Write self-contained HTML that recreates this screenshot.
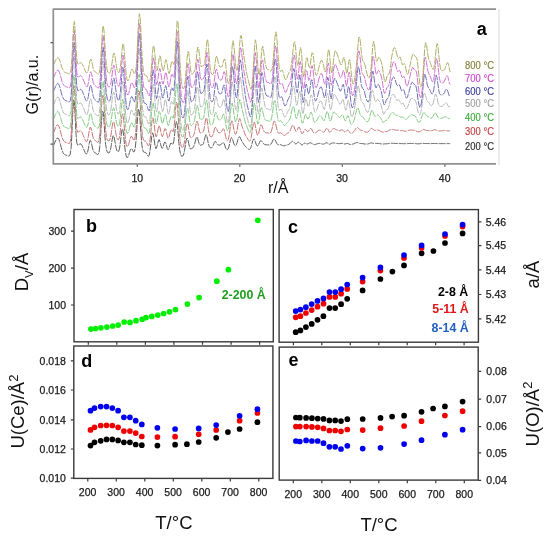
<!DOCTYPE html>
<html><head><meta charset="utf-8">
<style>
html,body{margin:0;padding:0;background:#fff;}
body{width:550px;height:536px;overflow:hidden;}
svg{display:block;will-change:transform;font-family:"Liberation Sans",sans-serif;}
.tl{font-size:10.5px;fill:#1a1a1a;stroke:#1a1a1a;stroke-width:0.25px;}
.ti{font-size:18.5px;fill:#111;}
.pl{font-size:18px;font-weight:bold;fill:#000;}
.lg{font-size:12.4px;font-weight:bold;}
.la text{font-size:10.3px;stroke-width:0.15px;}
</style></head><body>
<svg width="550" height="536" viewBox="0 0 550 536">
<rect width="550" height="536" fill="#fff"/>
<g><path d="M53.0,146.4 53.8,144.9 54.6,143.0 55.5,141.0 56.3,139.3 57.1,138.1 57.9,138.0 58.8,139.1 59.6,141.3 60.4,144.2 61.2,147.4 62.0,150.2 62.9,152.4 63.7,153.8 64.5,154.5 65.3,154.9 66.2,155.2 67.0,155.4 67.8,155.7 68.6,156.0 69.4,155.9 70.3,154.1 71.1,147.8 71.9,133.8 72.7,114.2 73.6,100.2 74.4,102.2 75.2,117.5 76.0,133.7 76.8,142.8 77.7,145.3 78.5,145.0 79.3,144.2 80.1,143.8 81.0,144.1 81.8,145.1 82.6,146.7 83.4,148.6 84.3,150.6 85.1,152.5 85.9,153.8 86.7,154.0 87.5,152.4 88.4,148.5 89.2,143.7 90.0,140.5 90.8,140.9 91.7,144.2 92.5,148.1 93.3,150.8 94.1,152.1 94.9,152.7 95.8,153.2 96.6,153.9 97.4,154.5 98.2,154.3 99.1,152.0 99.9,145.6 100.7,134.2 101.5,120.6 102.3,111.4 103.2,111.9 104.0,121.6 104.8,134.3 105.6,144.3 106.5,149.8 107.3,152.1 108.1,152.9 108.9,153.0 109.7,152.0 110.6,149.2 111.4,144.6 112.2,139.3 113.0,135.8 113.9,136.2 114.7,140.0 115.5,144.8 116.3,148.8 117.1,151.1 118.0,151.9 118.8,151.2 119.6,148.1 120.4,142.0 121.3,134.5 122.1,129.0 122.9,129.3 123.7,135.6 124.5,144.4 125.4,151.8 126.2,156.2 127.0,157.7 127.8,157.2 128.7,155.2 129.5,152.4 130.3,149.8 131.1,148.6 132.0,149.1 132.8,150.7 133.6,152.0 134.4,151.5 135.2,148.0 136.1,140.1 136.9,128.2 137.7,115.9 138.5,109.0 139.4,111.6 140.2,121.9 141.0,134.4 141.8,144.2 142.6,149.7 143.5,151.9 144.3,152.3 145.1,152.3 145.9,152.8 146.8,154.1 147.6,155.7 148.4,156.5 149.2,155.1 150.0,150.7 150.9,143.8 151.7,136.6 152.5,132.8 153.3,134.3 154.2,139.8 155.0,145.6 155.8,148.7 156.6,148.0 157.4,144.6 158.3,141.0 159.1,139.6 159.9,141.3 160.7,144.8 161.6,147.8 162.4,148.4 163.2,146.6 164.0,143.7 164.8,141.9 165.7,142.8 166.5,145.7 167.3,148.6 168.1,149.7 169.0,148.3 169.8,145.5 170.6,143.3 171.4,143.0 172.2,144.2 173.1,144.3 173.9,140.9 174.7,133.7 175.5,125.7 176.4,121.5 177.2,124.1 178.0,132.3 178.8,142.0 179.6,149.5 180.5,153.9 181.3,155.9 182.1,156.5 182.9,156.0 183.8,154.0 184.6,150.2 185.4,145.0 186.2,140.2 187.1,138.1 187.9,139.6 188.7,143.4 189.5,147.0 190.3,148.8 191.2,148.9 192.0,148.3 192.8,147.8 193.6,146.8 194.5,144.6 195.3,141.3 196.1,138.0 196.9,136.9 197.7,138.6 198.6,141.8 199.4,144.4 200.2,145.3 201.0,145.0 201.9,144.8 202.7,144.7 203.5,143.6 204.3,140.7 205.1,136.9 206.0,134.7 206.8,135.8 207.6,139.7 208.4,143.9 209.3,146.6 210.1,147.6 210.9,147.9 211.7,147.8 212.5,146.9 213.4,145.0 214.2,142.7 215.0,141.4 215.8,141.8 216.7,143.2 217.5,144.5 218.3,145.0 219.1,145.1 219.9,145.0 220.8,144.8 221.6,143.9 222.4,142.8 223.2,142.4 224.1,143.5 224.9,145.8 225.7,148.1 226.5,149.6 227.3,149.8 228.2,148.8 229.0,146.3 229.8,142.7 230.6,139.2 231.5,137.5 232.3,138.4 233.1,141.0 233.9,143.8 234.8,145.4 235.6,145.8 236.4,144.7 237.2,142.3 238.0,139.3 238.9,137.0 239.7,136.7 240.5,138.1 241.3,140.1 242.2,141.7 243.0,143.0 243.8,144.2 244.6,145.5 245.4,146.5 246.3,147.2 247.1,147.9 247.9,148.7 248.7,149.3 249.6,149.4 250.4,148.6 251.2,146.6 252.0,143.6 252.8,140.6 253.7,138.9 254.5,139.4 255.3,141.6 256.1,144.1 257.0,145.8 257.8,146.0 258.6,144.7 259.4,142.7 260.2,141.0 261.1,140.6 261.9,141.4 262.7,142.7 263.5,143.7 264.4,144.3 265.2,144.7 266.0,144.8 266.8,144.8 267.6,144.8 268.5,144.9 269.3,145.0 270.1,144.8 270.9,144.0 271.8,142.7 272.6,140.9 273.4,139.4 274.2,138.9 275.0,139.8 275.9,141.6 276.7,143.3 277.5,144.4 278.3,144.8 279.2,144.8 280.0,144.6 280.8,144.7 281.6,145.0 282.4,145.5 283.3,145.8 284.1,145.8 284.9,145.6 285.7,145.3 286.6,145.0 287.4,144.8 288.2,144.6 289.0,144.2 289.9,143.6 290.7,142.7 291.5,141.8 292.3,141.2 293.1,141.4 294.0,142.3 294.8,143.3 295.6,143.9 296.4,143.7 297.3,142.9 298.1,142.2 298.9,142.1 299.7,142.8 300.5,144.0 301.4,144.8 302.2,144.9 303.0,144.3 303.8,143.5 304.7,143.1 305.5,143.2 306.3,143.7 307.1,144.0 307.9,143.9 308.8,143.4 309.6,142.9 310.4,142.7 311.2,143.0 312.1,143.6 312.9,144.2 313.7,144.5 314.5,144.6 315.3,144.4 316.2,144.1 317.0,143.9 317.8,143.6 318.6,143.4 319.5,143.4 320.3,143.5 321.1,143.7 321.9,143.9 322.7,144.1 323.6,144.1 324.4,143.8 325.2,143.3 326.0,142.8 326.9,142.8 327.7,143.2 328.5,143.8 329.3,144.2 330.1,144.1 331.0,143.6 331.8,143.2 332.6,142.9 333.4,142.9 334.3,143.0 335.1,143.1 335.9,143.2 336.7,143.4 337.6,143.5 338.4,143.6 339.2,143.7 340.0,143.6 340.8,143.4 341.7,143.3 342.5,143.4 343.3,143.7 344.1,144.0 345.0,144.0 345.8,143.8 346.6,143.5 347.4,143.4 348.2,143.7 349.1,144.1 349.9,144.4 350.7,144.5 351.5,144.4 352.4,144.2 353.2,144.0 354.0,143.7 354.8,143.3 355.6,142.8 356.5,142.6 357.3,142.5 358.1,142.8 358.9,143.1 359.8,143.4 360.6,143.5 361.4,143.5 362.2,143.6 363.0,143.7 363.9,143.8 364.7,144.0 365.5,144.0 366.3,144.1 367.2,144.1 368.0,143.9 368.8,143.7 369.6,143.3 370.4,143.0 371.3,142.9 372.1,143.0 372.9,143.3 373.7,143.5 374.6,143.5 375.4,143.4 376.2,143.4 377.0,143.4 377.8,143.5 378.7,143.5 379.5,143.6 380.3,143.7 381.1,143.9 382.0,144.0 382.8,144.0 383.6,144.0 384.4,143.9 385.2,143.8 386.1,143.8 386.9,143.8 387.7,143.7 388.5,143.5 389.4,143.4 390.2,143.3 391.0,143.3 391.8,143.2 392.7,143.3 393.5,143.3 394.3,143.4 395.1,143.5 395.9,143.5 396.8,143.5 397.6,143.5 398.4,143.5 399.2,143.6 400.1,143.6 400.9,143.6 401.7,143.6 402.5,143.6 403.3,143.7 404.2,143.7 405.0,143.7 405.8,143.7 406.6,143.6 407.5,143.6 408.3,143.5 409.1,143.5 409.9,143.4 410.7,143.4 411.6,143.5 412.4,143.5 413.2,143.5 414.0,143.5 414.9,143.6 415.7,143.6 416.5,143.7 417.3,143.8 418.1,143.8 419.0,143.8 419.8,143.7 420.6,143.6 421.4,143.5 422.3,143.4 423.1,143.4 423.9,143.4 424.7,143.5 425.5,143.5 426.4,143.5 427.2,143.5 428.0,143.6 428.8,143.6 429.7,143.6 430.5,143.6 431.3,143.6 432.1,143.5 432.9,143.5 433.8,143.5 434.6,143.5 435.4,143.5 436.2,143.5 437.1,143.6 437.9,143.6 438.7,143.6 439.5,143.6 440.4,143.6 441.2,143.6 442.0,143.6 442.8,143.6 443.6,143.6 444.5,143.6 445.3,143.6 446.1,143.6 446.9,143.6 447.8,143.6 448.6,143.6 449.4,143.6 450.2,143.6" stroke="#606060" stroke-width="1.0" fill="none" stroke-dasharray="7 1"/><path d="M53.0,133.5 53.8,131.9 54.6,130.0 55.5,128.0 56.3,126.2 57.1,125.0 57.9,124.8 58.8,125.9 59.6,128.1 60.4,131.1 61.2,134.3 62.0,137.3 62.9,139.5 63.7,141.0 64.5,141.8 65.3,142.3 66.2,142.6 67.0,142.8 67.8,143.2 68.6,143.5 69.4,143.4 70.3,141.8 71.1,135.6 71.9,121.4 72.7,101.0 73.6,85.5 74.4,86.5 75.2,102.0 76.0,119.3 76.8,129.4 77.7,132.3 78.5,132.1 79.3,131.2 80.1,130.8 81.0,131.1 81.8,132.1 82.6,133.7 83.4,135.7 84.3,137.8 85.1,139.9 85.9,141.4 86.7,141.8 87.5,140.2 88.4,136.2 89.2,131.1 90.0,127.4 90.8,127.5 91.7,130.8 92.5,135.1 93.3,138.1 94.1,139.6 94.9,140.3 95.8,140.9 96.6,141.6 97.4,142.3 98.2,142.3 99.1,140.2 99.9,133.7 100.7,121.8 101.5,106.9 102.3,95.9 103.2,95.3 104.0,105.0 104.8,118.9 105.6,130.4 106.5,136.9 107.3,139.8 108.1,140.8 108.9,141.0 109.7,140.0 110.6,137.3 111.4,132.3 112.2,126.4 113.0,122.2 113.9,122.0 114.7,125.9 115.5,131.3 116.3,135.9 117.1,138.7 118.0,139.9 118.8,139.4 119.6,136.3 120.4,129.9 121.3,121.3 122.1,114.6 122.9,113.9 123.7,120.2 124.5,130.1 125.4,139.0 126.2,144.5 127.0,146.7 127.8,146.4 128.7,144.3 129.5,141.2 130.3,138.1 131.1,136.4 132.0,136.8 132.8,138.6 133.6,140.2 134.4,140.1 135.2,136.6 136.1,128.3 136.9,114.9 137.7,100.0 138.5,90.5 139.4,91.6 140.2,102.7 141.0,117.4 141.8,129.7 142.6,137.1 143.5,140.2 144.3,140.9 145.1,140.9 145.9,141.4 146.8,142.9 147.6,144.8 148.4,146.0 149.2,145.0 150.0,140.4 150.9,132.4 151.7,123.5 152.5,117.8 153.3,118.5 154.2,124.5 155.0,131.9 155.8,136.5 156.6,136.5 157.4,132.7 158.3,128.1 159.1,125.6 159.9,127.1 160.7,131.3 161.6,135.3 162.4,136.7 163.2,134.9 164.0,131.3 164.8,128.6 165.7,129.0 166.5,132.3 167.3,136.3 168.1,138.3 169.0,137.1 169.8,133.7 170.6,130.5 171.4,129.7 172.2,131.0 173.1,131.7 173.9,128.5 174.7,120.1 175.5,109.3 176.4,102.2 177.2,103.6 178.0,113.2 178.8,125.8 179.6,136.6 180.5,143.3 181.3,146.5 182.1,147.7 182.9,147.4 183.8,145.3 184.6,140.8 185.4,134.1 186.2,127.3 187.1,123.4 187.9,124.4 188.7,129.1 189.5,134.3 190.3,137.3 191.2,137.9 192.0,137.3 192.8,136.5 193.6,135.4 194.5,132.9 195.3,128.6 196.1,123.7 196.9,121.2 197.7,122.7 198.6,127.0 199.4,131.1 200.2,132.9 201.0,132.8 201.9,132.3 202.7,132.2 203.5,131.3 204.3,127.8 205.1,122.3 206.0,118.1 206.8,118.3 207.6,123.2 208.4,129.6 209.3,134.2 210.1,136.3 210.9,136.8 211.7,136.9 212.5,136.0 213.4,133.6 214.2,130.2 215.0,127.6 215.8,127.4 216.7,129.3 217.5,131.5 218.3,132.6 219.1,132.8 219.9,132.8 220.8,132.6 221.6,131.6 222.4,129.8 223.2,128.7 224.1,129.7 224.9,132.9 225.7,136.8 226.5,139.6 227.3,140.6 228.2,139.6 229.0,136.3 229.8,130.9 230.6,124.9 231.5,121.0 232.3,121.2 233.1,125.0 233.9,129.7 234.8,133.0 235.6,134.3 236.4,133.2 237.2,129.9 238.0,124.8 238.9,120.2 239.7,118.5 240.5,120.3 241.3,123.6 242.2,126.7 243.0,128.9 243.8,130.9 244.6,133.2 245.4,135.2 246.3,136.6 247.1,137.9 247.9,139.2 248.7,140.5 249.6,141.2 250.4,140.4 251.2,137.5 252.0,132.5 252.8,126.8 253.7,122.6 254.5,122.1 255.3,125.3 256.1,130.1 257.0,134.0 257.8,135.3 258.6,133.8 259.4,130.2 260.2,126.5 261.1,124.7 261.9,125.6 262.7,127.9 263.5,130.2 264.4,131.7 265.2,132.5 266.0,132.9 266.8,133.0 267.6,132.9 268.5,133.1 269.3,133.4 270.1,133.2 270.9,132.1 271.8,129.8 272.6,126.4 273.4,122.9 274.2,121.0 275.0,121.8 275.9,125.0 276.7,128.8 277.5,131.7 278.3,133.1 279.2,133.2 280.0,132.9 280.8,132.8 281.6,133.4 282.4,134.3 283.3,135.1 284.1,135.5 284.9,135.3 285.7,134.6 286.6,133.9 287.4,133.3 288.2,132.9 289.0,132.3 289.9,131.2 290.7,129.4 291.5,127.2 292.3,125.5 293.1,125.1 294.0,126.6 294.8,129.1 295.6,131.1 296.4,131.3 297.3,129.9 298.1,127.9 298.9,126.9 299.7,127.9 300.5,130.4 301.4,132.9 302.2,133.9 303.0,133.1 303.8,131.2 304.7,129.7 305.5,129.4 306.3,130.3 307.1,131.4 307.9,131.6 308.8,130.8 309.6,129.3 310.4,128.4 311.2,128.7 312.1,130.0 312.9,131.6 313.7,132.8 314.5,133.1 315.3,132.9 316.2,132.3 317.0,131.7 317.8,131.0 318.6,130.4 319.5,130.1 320.3,130.2 321.1,130.5 321.9,131.2 322.7,131.9 323.6,132.2 324.4,131.7 325.2,130.4 326.0,128.9 326.9,128.2 327.7,128.9 328.5,130.5 329.3,132.0 330.1,132.3 331.0,131.4 331.8,130.0 332.6,129.0 333.4,128.6 334.3,128.7 335.1,129.1 335.9,129.5 336.7,129.8 337.6,130.3 338.4,130.7 339.2,130.9 340.0,130.7 340.8,130.2 341.7,129.8 342.5,129.9 343.3,130.6 344.1,131.6 345.0,132.1 345.8,131.7 346.6,130.7 347.4,130.1 348.2,130.4 349.1,131.5 349.9,132.7 350.7,133.3 351.5,133.3 352.4,132.9 353.2,132.2 354.0,131.4 354.8,130.3 355.6,128.9 356.5,127.8 357.3,127.3 358.1,127.8 358.9,128.7 359.8,129.7 360.6,130.2 361.4,130.4 362.2,130.5 363.0,130.8 363.9,131.2 364.7,131.7 365.5,132.0 366.3,132.2 367.2,132.2 368.0,132.0 368.8,131.3 369.6,130.3 370.4,129.1 371.3,128.4 372.1,128.5 372.9,129.3 373.7,130.1 374.6,130.4 375.4,130.3 376.2,130.1 377.0,130.0 377.8,130.1 378.7,130.3 379.5,130.6 380.3,131.0 381.1,131.5 382.0,132.0 382.8,132.2 383.6,132.1 384.4,131.8 385.2,131.6 386.1,131.5 386.9,131.4 387.7,131.2 388.5,130.7 389.4,130.2 390.2,129.8 391.0,129.5 391.8,129.4 392.7,129.4 393.5,129.5 394.3,129.8 395.1,130.1 395.9,130.2 396.8,130.2 397.6,130.1 398.4,130.2 399.2,130.4 400.1,130.6 400.9,130.7 401.7,130.6 402.5,130.6 403.3,130.8 404.2,131.1 405.0,131.3 405.8,131.2 406.6,131.0 407.5,130.8 408.3,130.5 409.1,130.3 409.9,130.1 410.7,130.0 411.6,130.0 412.4,130.1 413.2,130.2 414.0,130.2 414.9,130.4 415.7,130.8 416.5,131.2 417.3,131.6 418.1,131.8 419.0,131.8 419.8,131.6 420.6,131.2 421.4,130.5 422.3,129.9 423.1,129.5 423.9,129.5 424.7,129.8 425.5,130.1 426.4,130.3 427.2,130.5 428.0,130.5 428.8,130.7 429.7,130.8 430.5,130.8 431.3,130.8 432.1,130.6 432.9,130.3 433.8,129.9 434.6,129.7 435.4,129.8 436.2,130.1 437.1,130.5 437.9,130.8 438.7,130.9 439.5,130.9 440.4,130.9 441.2,130.9 442.0,130.8 442.8,130.7 443.6,130.6 444.5,130.5 445.3,130.5 446.1,130.6 446.9,130.8 447.8,130.9 448.6,130.9 449.4,130.8 450.2,130.7" stroke="#c87676" stroke-width="1.0" fill="none" stroke-dasharray="7 1"/><path d="M53.0,119.4 53.8,118.0 54.6,116.3 55.5,114.5 56.3,112.9 57.1,111.8 57.9,111.5 58.8,112.4 59.6,114.4 60.4,117.1 61.2,120.0 62.0,122.8 62.9,124.9 63.7,126.2 64.5,127.0 65.3,127.4 66.2,127.7 67.0,128.0 67.8,128.3 68.6,128.6 69.4,128.6 70.3,127.2 71.1,121.9 71.9,109.2 72.7,90.4 73.6,75.4 74.4,75.3 75.2,89.1 76.0,105.5 76.8,115.3 77.7,118.4 78.5,118.2 79.3,117.4 80.1,116.9 81.0,117.2 81.8,118.1 82.6,119.6 83.4,121.4 84.3,123.5 85.1,125.4 85.9,126.9 86.7,127.4 87.5,126.1 88.4,122.6 89.2,117.6 90.0,113.9 90.8,113.6 91.7,116.7 92.5,120.8 93.3,123.8 94.1,125.4 94.9,126.1 95.8,126.7 96.6,127.4 97.4,128.1 98.2,128.3 99.1,126.5 99.9,120.7 100.7,109.6 101.5,95.0 102.3,83.4 103.2,81.6 104.0,90.3 104.8,103.9 105.6,115.6 106.5,122.6 107.3,125.7 108.1,126.9 108.9,127.1 109.7,126.4 110.6,123.9 111.4,119.2 112.2,113.2 113.0,108.6 113.9,107.9 114.7,111.4 115.5,116.9 116.3,121.7 117.1,124.8 118.0,126.2 118.8,125.9 119.6,123.2 120.4,117.1 121.3,108.4 122.1,101.0 122.9,99.3 123.7,104.9 124.5,114.9 125.4,124.4 126.2,130.6 127.0,133.3 127.8,133.3 128.7,131.4 129.5,128.3 130.3,125.0 131.1,122.9 132.0,123.1 132.8,124.8 133.6,126.7 134.4,127.0 135.2,124.0 136.1,116.1 136.9,102.6 137.7,86.6 138.5,75.1 139.4,74.3 140.2,84.7 141.0,100.3 141.8,114.2 142.6,122.8 143.5,126.8 144.3,127.9 145.1,127.9 145.9,128.3 146.8,129.7 147.6,131.9 148.4,133.5 149.2,132.9 150.0,128.6 150.9,120.5 151.7,110.6 152.5,103.4 153.3,102.8 154.2,108.7 155.0,116.9 155.8,122.8 156.6,123.7 157.4,120.1 158.3,114.8 159.1,111.4 159.9,112.2 160.7,116.6 161.6,121.4 162.4,123.7 163.2,122.3 164.0,118.4 164.8,114.9 165.7,114.6 166.5,117.9 167.3,122.5 168.1,125.5 169.0,124.8 169.8,121.2 170.6,117.3 171.4,115.7 172.2,116.8 173.1,118.2 173.9,115.7 174.7,107.0 175.5,94.5 176.4,84.6 177.2,83.9 178.0,93.4 178.8,108.1 179.6,121.5 180.5,130.5 181.3,135.1 182.1,136.9 182.9,137.0 183.8,135.1 184.6,130.5 185.4,123.0 186.2,114.5 187.1,108.6 187.9,108.5 188.7,113.5 189.5,120.0 190.3,124.5 191.2,125.8 192.0,125.2 192.8,124.3 193.6,123.2 194.5,120.6 195.3,115.7 196.1,109.6 196.9,105.4 197.7,106.0 198.6,110.8 199.4,116.4 200.2,119.5 201.0,119.7 201.9,119.1 202.7,118.9 203.5,118.2 204.3,114.7 205.1,108.0 206.0,101.7 206.8,100.3 207.6,105.3 208.4,113.4 209.3,120.3 210.1,123.8 210.9,124.8 211.7,125.1 212.5,124.4 213.4,121.9 214.2,117.5 215.0,113.5 215.8,112.3 216.7,114.3 217.5,117.3 218.3,119.2 219.1,119.8 219.9,119.8 220.8,119.7 221.6,118.6 222.4,116.4 223.2,114.4 224.1,114.8 224.9,118.5 225.7,123.8 226.5,128.3 227.3,130.6 228.2,130.0 229.0,126.4 229.8,119.7 230.6,111.1 231.5,104.4 232.3,102.9 233.1,107.0 233.9,113.6 234.8,119.2 235.6,121.9 236.4,121.4 237.2,117.6 238.0,110.8 238.9,103.5 239.7,99.5 240.5,100.6 241.3,105.1 242.2,109.8 243.0,113.3 243.8,116.3 244.6,119.6 245.4,122.8 246.3,125.2 247.1,127.1 247.9,129.1 248.7,131.3 249.6,132.8 250.4,132.4 251.2,129.1 252.0,122.5 252.8,113.7 253.7,106.0 254.5,103.2 255.3,106.4 256.1,113.6 257.0,120.5 257.8,124.1 258.6,123.1 259.4,118.3 260.2,112.1 261.1,107.9 261.9,107.9 262.7,111.2 263.5,115.1 264.4,118.0 265.2,119.6 266.0,120.5 266.8,120.7 267.6,120.7 268.5,120.9 269.3,121.4 270.1,121.5 270.9,120.3 271.8,117.1 272.6,112.0 273.4,105.7 274.2,101.1 275.0,100.7 275.9,104.9 276.7,111.4 277.5,117.2 278.3,120.6 279.2,121.5 280.0,121.1 280.8,120.7 281.6,121.3 282.4,122.8 283.3,124.5 284.1,125.5 284.9,125.5 285.7,124.6 286.6,123.3 287.4,122.2 288.2,121.4 289.0,120.6 289.9,118.9 290.7,116.1 291.5,112.1 292.3,108.2 293.1,106.3 294.0,107.8 294.8,112.1 295.6,116.6 296.4,118.5 297.3,116.9 298.1,113.1 298.9,110.0 299.7,110.3 300.5,114.3 301.4,119.7 302.2,123.1 303.0,122.9 303.8,119.7 304.7,116.0 305.5,114.3 306.3,115.4 307.1,117.8 307.9,119.1 308.8,118.2 309.6,115.4 310.4,112.7 311.2,112.2 312.1,114.3 312.9,117.7 313.7,120.7 314.5,122.2 315.3,122.2 316.2,121.3 317.0,119.9 317.8,118.3 318.6,116.9 319.5,116.0 320.3,115.8 321.1,116.3 321.9,117.6 322.7,119.2 323.6,120.5 324.4,120.3 325.2,117.9 326.0,114.3 326.9,111.6 327.7,111.8 328.5,115.0 329.3,118.9 330.1,121.0 331.0,120.0 331.8,117.0 332.6,114.0 333.4,112.3 334.3,112.1 335.1,112.7 335.9,113.6 336.7,114.6 337.6,115.6 338.4,116.7 339.2,117.5 340.0,117.5 340.8,116.6 341.7,115.2 342.5,114.7 343.3,115.9 344.1,118.5 345.0,120.6 345.8,120.6 346.6,118.4 347.4,116.0 348.2,115.7 349.1,117.8 349.9,121.2 350.7,123.7 351.5,124.5 352.4,123.8 353.2,122.3 354.0,120.3 354.8,117.6 355.6,114.1 356.5,110.4 357.3,108.0 358.1,108.0 358.9,110.2 359.8,113.1 360.6,115.3 361.4,116.3 362.2,116.6 363.0,117.1 363.9,118.2 364.7,119.5 365.5,120.6 366.3,121.4 367.2,121.8 368.0,121.6 368.8,120.4 369.6,117.7 370.4,114.1 371.3,111.0 372.1,110.0 372.9,111.5 373.7,114.2 374.6,116.0 375.4,116.3 376.2,115.6 377.0,115.1 377.8,115.2 378.7,115.8 379.5,116.5 380.3,117.5 381.1,118.9 382.0,120.7 382.8,122.1 383.6,122.4 384.4,121.7 385.2,120.8 386.1,120.3 386.9,120.1 387.7,119.6 388.5,118.4 389.4,116.6 390.2,114.8 391.0,113.5 391.8,112.8 392.7,112.6 393.5,112.8 394.3,113.5 395.1,114.6 395.9,115.4 396.8,115.6 397.6,115.3 398.4,115.3 399.2,115.9 400.1,116.9 400.9,117.3 401.7,117.2 402.5,117.0 403.3,117.4 404.2,118.5 405.0,119.4 405.8,119.7 406.6,119.2 407.5,118.3 408.3,117.4 409.1,116.4 409.9,115.4 410.7,114.7 411.6,114.6 412.4,114.9 413.2,115.3 414.0,115.4 414.9,115.7 415.7,116.7 416.5,118.5 417.3,120.4 418.1,121.8 419.0,122.3 419.8,121.9 420.6,120.6 421.4,118.3 422.3,115.4 423.1,113.1 423.9,112.2 424.7,113.0 425.5,114.4 426.4,115.5 427.2,116.2 428.0,116.6 428.8,117.0 429.7,117.5 430.5,118.0 431.3,118.2 432.1,117.7 432.9,116.5 433.8,114.8 434.6,113.3 435.4,112.9 436.2,113.9 437.1,115.7 437.9,117.2 438.7,118.1 439.5,118.3 440.4,118.3 441.2,118.3 442.0,118.2 442.8,117.9 443.6,117.5 444.5,117.0 445.3,116.7 446.1,116.9 446.9,117.5 447.8,118.2 448.6,118.6 449.4,118.3 450.2,117.8" stroke="#84cc84" stroke-width="1.0" fill="none" stroke-dasharray="7 1"/><path d="M53.0,105.6 53.8,104.1 54.6,102.3 55.5,100.3 56.3,98.5 57.1,97.3 57.9,97.1 58.8,98.0 59.6,100.0 60.4,102.9 61.2,106.1 62.0,109.1 62.9,111.5 63.7,113.0 64.5,113.9 65.3,114.4 66.2,114.7 67.0,115.0 67.8,115.4 68.6,115.8 69.4,115.8 70.3,114.5 71.1,108.9 71.9,95.3 72.7,74.7 73.6,57.3 74.4,55.9 75.2,70.7 76.0,89.1 76.8,100.6 77.7,104.4 78.5,104.4 79.3,103.4 80.1,102.9 81.0,103.1 81.8,104.1 82.6,105.7 83.4,107.8 84.3,110.2 85.1,112.4 85.9,114.2 86.7,115.0 87.5,113.7 88.4,109.8 89.2,104.2 90.0,99.6 90.8,98.9 91.7,102.2 92.5,106.9 93.3,110.7 94.1,112.6 94.9,113.5 95.8,114.2 96.6,115.0 97.4,115.9 98.2,116.2 99.1,114.5 99.9,108.3 100.7,95.9 101.5,78.9 102.3,64.4 103.2,60.8 104.0,69.9 104.8,85.8 105.6,100.1 106.5,109.0 107.3,113.1 108.1,114.7 108.9,115.1 109.7,114.4 110.6,111.7 111.4,106.4 112.2,99.3 113.0,93.4 113.9,91.9 114.7,95.6 115.5,102.0 116.3,108.1 117.1,112.0 118.0,114.0 118.8,114.0 119.6,111.2 120.4,104.3 121.3,94.0 122.1,84.3 122.9,81.1 123.7,86.9 124.5,98.7 125.4,110.8 126.2,119.0 127.0,122.9 127.8,123.3 128.7,121.3 129.5,117.6 130.3,113.4 131.1,110.6 132.0,110.4 132.8,112.4 133.6,114.8 134.4,115.6 135.2,112.7 136.1,103.9 136.9,87.9 137.7,67.9 138.5,51.8 139.4,48.3 140.2,59.5 141.0,78.8 141.8,97.0 142.6,109.1 143.5,114.9 144.3,116.7 145.1,116.9 145.9,117.3 146.8,118.9 147.6,121.6 148.4,123.9 149.2,123.8 150.0,119.3 150.9,109.6 151.7,96.9 152.5,86.6 153.3,84.1 154.2,90.4 155.0,101.1 155.8,109.6 156.6,112.1 157.4,108.3 158.3,101.4 159.1,96.2 159.9,96.1 160.7,101.2 161.6,107.8 162.4,111.7 163.2,110.7 164.0,106.0 164.8,100.9 165.7,99.5 166.5,103.1 167.3,109.2 168.1,113.8 169.0,114.0 169.8,109.8 170.6,104.3 171.4,101.3 172.2,102.3 173.1,104.6 173.9,102.7 174.7,92.8 175.5,76.4 176.4,61.5 177.2,57.4 178.0,67.5 178.8,86.6 179.6,105.7 180.5,119.3 181.3,126.6 182.1,129.8 182.9,130.4 183.8,128.6 184.6,123.3 185.4,113.8 186.2,102.1 187.1,92.8 187.9,90.6 188.7,96.2 189.5,105.2 190.3,112.3 191.2,115.1 192.0,114.7 192.8,113.4 193.6,112.0 194.5,109.2 195.3,103.2 196.1,94.7 196.9,87.8 197.7,86.8 198.6,92.4 199.4,100.5 200.2,105.9 201.0,107.1 201.9,106.2 202.7,105.8 203.5,105.3 204.3,101.6 205.1,93.0 206.0,83.3 206.8,79.0 207.6,83.9 208.4,94.9 209.3,105.7 210.1,111.9 210.9,114.1 211.7,114.6 212.5,114.2 213.4,111.4 214.2,105.6 215.0,99.3 215.8,96.2 216.7,98.0 217.5,102.4 218.3,105.8 219.1,107.0 219.9,107.1 220.8,107.1 221.6,106.1 222.4,103.2 223.2,99.8 224.1,99.2 224.9,103.4 225.7,110.8 226.5,118.1 227.3,122.5 228.2,122.9 229.0,119.0 229.8,110.4 230.6,98.1 231.5,86.7 232.3,81.8 233.1,85.7 233.9,95.1 234.8,104.3 235.6,109.7 236.4,110.4 237.2,106.3 238.0,97.3 238.9,86.0 239.7,77.8 240.5,77.1 241.3,82.8 242.2,90.3 243.0,96.1 243.8,100.6 244.6,105.4 245.4,110.4 246.3,114.5 247.1,117.6 247.9,120.5 248.7,123.8 249.6,126.6 250.4,127.3 251.2,123.9 252.0,115.3 252.8,102.5 253.7,89.5 254.5,82.1 255.3,84.2 256.1,93.9 257.0,105.4 257.8,113.1 258.6,113.9 259.4,108.1 260.2,98.6 261.1,90.5 261.9,88.2 262.7,91.9 263.5,98.1 264.4,103.3 265.2,106.5 266.0,108.2 266.8,108.9 267.6,108.9 268.5,109.1 269.3,109.8 270.1,110.3 270.9,109.3 271.8,105.5 272.6,98.4 273.4,88.7 274.2,79.8 275.0,76.3 275.9,80.6 276.7,90.3 277.5,100.5 278.3,107.4 279.2,110.2 280.0,110.1 280.8,109.2 281.6,109.4 282.4,111.4 283.3,114.3 284.1,116.5 284.9,117.2 285.7,116.3 286.6,114.2 287.4,112.2 288.2,110.8 289.0,109.6 289.9,107.5 290.7,103.7 291.5,97.8 292.3,91.0 293.1,86.1 294.0,86.3 294.8,92.0 295.6,99.9 296.4,105.1 297.3,104.7 298.1,99.3 298.9,93.0 299.7,90.9 300.5,95.4 301.4,104.1 302.2,111.8 303.0,113.9 303.8,110.2 304.7,103.7 305.5,99.2 306.3,99.2 307.1,102.8 307.9,106.3 308.8,106.4 309.6,102.6 310.4,97.5 311.2,94.8 312.1,96.5 312.9,101.8 313.7,107.6 314.5,111.4 315.3,112.4 316.2,111.4 317.0,109.2 317.8,106.6 318.6,104.0 319.5,101.9 320.3,101.0 321.1,101.3 321.9,103.0 322.7,105.8 323.6,108.6 324.4,109.6 325.2,107.1 326.0,101.3 326.9,95.3 327.7,93.1 328.5,96.6 329.3,103.7 330.1,109.3 331.0,109.9 331.8,105.8 332.6,100.0 333.4,95.8 334.3,94.3 335.1,94.9 335.9,96.4 336.7,98.1 337.6,99.8 338.4,101.7 339.2,103.5 340.0,104.3 340.8,103.5 341.7,101.1 342.5,99.1 343.3,99.7 344.1,103.5 345.0,108.3 345.8,110.3 346.6,107.9 347.4,103.1 348.2,100.4 349.1,102.4 349.9,108.0 350.7,113.7 351.5,116.7 352.4,116.6 353.2,114.5 354.0,111.3 354.8,107.0 355.6,101.1 356.5,94.1 357.3,88.0 358.1,85.7 358.9,88.0 359.8,93.3 360.6,98.4 361.4,101.2 362.2,102.2 363.0,102.8 363.9,104.4 364.7,106.8 365.5,109.1 366.3,110.9 367.2,112.0 368.0,112.3 368.8,111.1 369.6,107.5 370.4,101.3 371.3,94.4 372.1,90.1 372.9,90.7 373.7,95.1 374.6,99.8 375.4,101.9 376.2,101.3 377.0,99.9 377.8,99.4 378.7,100.2 379.5,101.5 380.3,103.1 381.1,105.4 382.0,108.7 382.8,112.1 383.6,114.0 384.4,113.6 385.2,111.7 386.1,110.1 386.9,109.6 387.7,109.2 388.5,107.5 389.4,104.4 390.2,100.6 391.0,97.4 391.8,95.4 392.7,94.4 393.5,94.3 394.3,95.2 395.1,97.1 395.9,99.2 396.8,100.3 397.6,100.1 398.4,99.6 399.2,100.2 400.1,101.9 400.9,103.6 401.7,103.9 402.5,103.3 403.3,103.4 404.2,105.0 405.0,107.4 405.8,108.8 406.6,108.6 407.5,107.1 408.3,105.2 409.1,103.1 409.9,101.0 410.7,99.1 411.6,98.1 412.4,98.4 413.2,99.2 414.0,99.7 414.9,99.9 415.7,101.1 416.5,104.2 417.3,108.4 418.1,112.2 419.0,114.4 419.8,114.7 420.6,113.1 421.4,109.4 422.3,103.6 423.1,97.4 423.9,93.4 424.7,93.1 425.5,95.6 426.4,98.7 427.2,100.8 428.0,101.9 428.8,102.7 429.7,103.8 430.5,104.9 431.3,105.8 432.1,105.7 432.9,104.1 433.8,100.8 434.6,96.7 435.4,94.1 436.2,94.5 437.1,97.8 437.9,101.9 438.7,104.8 439.5,106.1 440.4,106.4 441.2,106.4 442.0,106.3 442.8,105.9 443.6,105.2 444.5,104.1 445.3,103.1 446.1,102.7 446.9,103.5 447.8,105.2 448.6,106.7 449.4,107.0 450.2,106.0" stroke="#b8b8b8" stroke-width="1.0" fill="none" stroke-dasharray="7 1"/><path d="M53.0,91.8 53.8,90.4 54.6,88.7 55.5,86.8 56.3,85.0 57.1,83.8 57.9,83.5 58.8,84.3 59.6,86.3 60.4,89.1 61.2,92.3 62.0,95.2 62.9,97.5 63.7,99.0 64.5,99.9 65.3,100.4 66.2,100.7 67.0,101.0 67.8,101.4 68.6,101.8 69.4,101.9 70.3,100.7 71.1,95.6 71.9,82.8 72.7,62.8 73.6,45.2 74.4,42.7 75.2,56.5 76.0,74.7 76.8,86.5 77.7,90.6 78.5,90.7 79.3,89.8 80.1,89.2 81.0,89.4 81.8,90.3 82.6,91.8 83.4,93.9 84.3,96.2 85.1,98.4 85.9,100.3 86.7,101.1 87.5,100.0 88.4,96.4 89.2,91.0 90.0,86.3 90.8,85.2 91.7,88.2 92.5,92.8 93.3,96.6 94.1,98.7 94.9,99.6 95.8,100.3 96.6,101.1 97.4,101.9 98.2,102.4 99.1,101.0 99.9,95.5 100.7,83.8 101.5,67.2 102.3,52.2 103.2,47.3 104.0,55.2 104.8,70.6 105.6,85.2 106.5,94.6 107.3,99.0 108.1,100.8 108.9,101.3 109.7,100.8 110.6,98.4 111.4,93.4 112.2,86.5 113.0,80.2 113.9,78.1 114.7,81.3 115.5,87.6 116.3,93.7 117.1,97.9 118.0,100.1 118.8,100.4 119.6,98.0 120.4,91.7 121.3,81.7 122.1,71.7 122.9,67.3 123.7,71.9 124.5,83.3 125.4,95.6 126.2,104.5 127.0,108.9 127.8,109.8 128.7,108.1 129.5,104.6 130.3,100.3 131.1,97.2 132.0,96.6 132.8,98.3 133.6,100.9 134.4,102.1 135.2,99.9 136.1,92.0 136.9,77.0 137.7,57.0 138.5,39.5 139.4,33.6 140.2,42.8 141.0,61.6 141.8,80.7 142.6,94.0 143.5,100.8 144.3,103.1 145.1,103.4 145.9,103.6 146.8,105.0 147.6,107.7 148.4,110.3 149.2,110.8 150.0,107.1 150.9,98.1 151.7,85.4 152.5,74.0 153.3,69.8 154.2,74.8 155.0,85.4 155.8,94.9 156.6,98.7 157.4,95.8 158.3,89.0 159.1,83.0 159.9,81.8 160.7,86.2 161.6,93.0 162.4,97.8 163.2,97.8 164.0,93.5 164.8,88.0 165.7,85.6 166.5,88.3 167.3,94.5 168.1,99.9 169.0,101.1 169.8,97.5 170.6,91.7 171.4,87.9 172.2,88.1 173.1,90.6 173.9,90.1 174.7,81.7 175.5,65.6 176.4,48.8 177.2,41.5 178.0,49.1 178.8,67.7 179.6,88.2 180.5,103.8 181.3,112.7 182.1,116.8 182.9,118.0 183.8,116.8 184.6,112.2 185.4,103.3 186.2,91.2 187.1,80.3 187.9,76.1 188.7,80.3 189.5,89.5 190.3,97.8 191.2,101.8 192.0,101.9 192.8,100.6 193.6,99.3 194.5,96.9 195.3,91.4 196.1,82.8 196.9,74.6 197.7,71.7 198.6,76.2 199.4,84.7 200.2,91.5 201.0,93.7 201.9,93.0 202.7,92.3 203.5,92.1 204.3,89.4 205.1,81.5 206.0,70.7 206.8,64.0 207.6,66.6 208.4,77.4 209.3,89.6 210.1,97.7 210.9,100.9 211.7,101.7 212.5,101.6 213.4,99.5 214.2,94.0 215.0,87.0 215.8,82.4 216.7,83.0 217.5,87.3 218.3,91.6 219.1,93.5 219.9,93.8 220.8,93.8 221.6,93.2 222.4,90.6 223.2,86.8 224.1,84.9 224.9,87.9 225.7,95.4 226.5,103.8 227.3,109.7 228.2,111.5 229.0,108.7 229.8,100.7 230.6,88.1 231.5,74.6 232.3,66.6 233.1,68.1 233.9,77.3 234.8,88.1 235.6,95.5 236.4,97.9 237.2,95.0 238.0,86.5 238.9,74.3 239.7,63.5 240.5,59.9 241.3,64.5 242.2,72.8 243.0,79.9 243.8,85.2 244.6,90.3 245.4,96.0 246.3,101.0 247.1,104.7 247.9,107.8 248.7,111.5 249.6,115.0 250.4,116.8 251.2,114.7 252.0,107.0 252.8,93.9 253.7,78.5 254.5,67.4 255.3,66.1 256.1,74.8 257.0,88.0 257.8,98.7 258.6,102.4 259.4,98.1 260.2,88.1 261.1,77.7 261.9,72.5 262.7,74.7 263.5,81.4 264.4,88.0 265.2,92.4 266.0,94.8 266.8,96.0 267.6,96.2 268.5,96.2 269.3,96.9 270.1,97.7 270.9,97.4 271.8,94.3 272.6,87.4 273.4,77.0 274.2,65.7 275.0,58.8 275.9,60.5 276.7,70.2 277.5,82.5 278.3,92.1 279.2,97.1 280.0,98.0 280.8,97.0 281.6,96.6 282.4,98.2 283.3,101.4 284.1,104.5 284.9,106.0 285.7,105.6 286.6,103.6 287.4,101.1 288.2,99.2 289.0,97.8 289.9,95.9 290.7,92.3 291.5,86.1 292.3,78.1 293.1,70.9 294.0,68.5 294.8,73.0 295.6,82.1 296.4,90.2 297.3,92.6 298.1,88.0 298.9,80.1 299.7,74.9 300.5,77.1 301.4,86.3 302.2,96.9 303.0,102.6 303.8,100.6 304.7,93.4 305.5,86.3 306.3,84.0 307.1,87.1 307.9,92.0 308.8,94.1 309.6,91.3 310.4,85.2 311.2,80.0 312.1,79.9 312.9,84.9 313.7,92.3 314.5,98.2 315.3,100.9 316.2,100.5 317.0,98.3 317.8,95.2 318.6,91.9 319.5,89.0 320.3,87.2 321.1,86.9 321.9,88.3 322.7,91.3 323.6,95.0 324.4,97.6 325.2,96.5 326.0,90.8 326.9,82.7 327.7,77.3 328.5,78.6 329.3,86.2 330.1,94.9 331.0,98.8 331.8,95.8 332.6,88.8 333.4,82.2 334.3,78.7 335.1,78.5 335.9,80.1 336.7,82.2 337.6,84.3 338.4,86.6 339.2,89.1 340.0,90.9 340.8,90.9 341.7,88.5 342.5,85.3 343.3,84.2 344.1,87.4 345.0,93.6 345.8,98.5 346.6,98.0 347.4,92.5 348.2,87.0 349.1,86.6 349.9,92.1 350.7,100.2 351.5,106.2 352.4,107.9 353.2,106.2 354.0,102.6 354.8,97.7 355.6,90.9 356.5,82.1 357.3,73.0 358.1,67.0 358.9,67.2 359.8,72.8 360.6,80.2 361.4,85.6 362.2,87.9 363.0,88.7 363.9,90.1 364.7,92.9 365.5,96.2 366.3,99.1 367.2,101.0 368.0,102.1 368.8,101.7 369.6,98.5 370.4,91.7 371.3,82.3 372.1,74.0 372.9,71.2 373.7,75.1 374.6,82.1 375.4,87.1 376.2,87.9 377.0,86.1 377.8,84.6 378.7,84.8 379.5,86.4 380.3,88.3 381.1,90.9 382.0,94.8 382.8,99.8 383.6,103.8 384.4,105.0 385.2,103.2 386.1,100.5 386.9,99.0 387.7,98.6 388.5,97.4 389.4,94.0 390.2,88.9 391.0,83.7 391.8,79.9 392.7,77.8 393.5,77.0 394.3,77.5 395.1,79.5 395.9,82.5 396.8,85.0 397.6,85.6 398.4,84.9 399.2,84.7 400.1,86.4 400.9,89.2 401.7,90.9 402.5,90.5 403.3,89.7 404.2,90.8 405.0,94.0 405.8,97.1 406.6,98.2 407.5,96.9 408.3,94.3 409.1,91.4 409.9,88.3 410.7,85.1 411.6,82.8 412.4,82.3 413.2,83.2 414.0,84.2 414.9,84.6 415.7,85.3 416.5,88.3 417.3,93.9 418.1,100.3 419.0,105.2 419.8,107.3 420.6,106.6 421.4,102.9 422.3,95.8 423.1,86.3 423.9,77.8 424.7,74.0 425.5,75.6 426.4,80.2 427.2,84.4 428.0,86.9 428.8,88.3 429.7,89.7 430.5,91.5 431.3,93.2 432.1,94.1 432.9,93.1 433.8,89.4 434.6,83.5 435.4,77.6 436.2,75.1 437.1,77.8 437.9,83.9 438.7,89.9 439.5,93.5 440.4,94.7 441.2,94.9 442.0,94.8 442.8,94.6 443.6,93.9 444.5,92.4 445.3,90.6 446.1,89.2 446.9,89.3 447.8,91.3 448.6,94.1 449.4,96.0 450.2,95.6" stroke="#7070b8" stroke-width="1.0" fill="none" stroke-dasharray="7 1"/><path d="M53.0,78.3 53.8,76.9 54.6,75.2 55.5,73.4 56.3,71.7 57.1,70.5 57.9,70.1 58.8,70.9 59.6,72.8 60.4,75.5 61.2,78.5 62.0,81.4 62.9,83.6 63.7,85.2 64.5,86.0 65.3,86.5 66.2,86.8 67.0,87.1 67.8,87.4 68.6,87.8 69.4,87.9 70.3,86.9 71.1,82.2 71.9,70.5 72.7,51.4 73.6,34.0 74.4,30.6 75.2,43.3 76.0,60.9 76.8,72.7 77.7,77.0 78.5,77.1 79.3,76.3 80.1,75.7 81.0,75.8 81.8,76.6 82.6,78.1 83.4,80.0 84.3,82.2 85.1,84.3 85.9,86.1 86.7,87.0 87.5,86.2 88.4,82.9 89.2,77.8 90.0,73.1 90.8,71.8 91.7,74.3 92.5,78.7 93.3,82.5 94.1,84.6 94.9,85.5 95.8,86.1 96.6,86.8 97.4,87.7 98.2,88.2 99.1,87.1 99.9,82.4 100.7,71.9 101.5,56.5 102.3,41.8 103.2,35.8 104.0,42.2 104.8,56.5 105.6,70.7 106.5,80.1 107.3,84.7 108.1,86.5 108.9,87.1 109.7,86.7 110.6,84.8 111.4,80.3 112.2,73.9 113.0,67.8 113.9,65.2 114.7,67.6 115.5,73.4 116.3,79.3 117.1,83.5 118.0,85.8 118.8,86.3 119.6,84.4 120.4,79.0 121.3,70.0 122.1,60.2 122.9,55.1 123.7,58.4 124.5,68.5 125.4,80.3 126.2,89.2 127.0,93.9 127.8,95.0 128.7,93.7 129.5,90.6 130.3,86.6 131.1,83.4 132.0,82.5 132.8,83.9 133.6,86.3 134.4,87.8 135.2,86.3 136.1,79.9 136.9,66.8 137.7,48.5 138.5,31.1 139.4,23.5 140.2,30.1 141.0,46.9 141.8,65.2 142.6,78.7 143.5,85.9 144.3,88.5 145.1,88.9 145.9,89.1 146.8,90.2 147.6,92.5 148.4,95.1 149.2,96.0 150.0,93.4 150.9,85.8 151.7,74.3 152.5,62.9 153.3,57.5 154.2,60.9 155.0,70.3 155.8,79.8 156.6,84.4 157.4,82.7 158.3,76.7 159.1,70.6 159.9,68.5 160.7,71.8 161.6,78.1 162.4,83.2 163.2,84.1 164.0,80.7 164.8,75.4 165.7,72.4 166.5,74.0 167.3,79.4 168.1,84.9 169.0,87.0 169.8,84.4 170.6,79.1 171.4,74.8 172.2,74.3 173.1,76.6 173.9,77.2 174.7,71.0 175.5,57.1 176.4,40.7 177.2,31.4 178.0,35.5 178.8,51.4 179.6,70.9 180.5,86.8 181.3,96.4 182.1,101.0 182.9,102.6 183.8,102.0 184.6,98.5 185.4,91.1 186.2,80.1 187.1,69.2 187.9,63.5 188.7,65.8 189.5,73.8 190.3,82.3 191.2,87.0 192.0,87.8 192.8,86.6 193.6,85.4 194.5,83.6 195.3,79.3 196.1,71.7 196.9,63.5 197.7,59.2 198.6,61.9 199.4,69.4 200.2,76.7 201.0,79.8 201.9,79.5 202.7,78.7 203.5,78.6 204.3,76.9 205.1,70.7 206.0,60.7 206.8,52.7 207.6,52.8 208.4,61.5 209.3,73.3 210.1,82.2 210.9,86.2 211.7,87.4 212.5,87.6 213.4,86.2 214.2,81.9 215.0,75.3 215.8,69.9 216.7,69.2 217.5,72.7 218.3,77.0 219.1,79.4 219.9,80.0 220.8,80.1 221.6,79.8 222.4,77.9 223.2,74.3 224.1,71.6 224.9,73.1 225.7,79.3 226.5,87.5 227.3,93.9 228.2,96.8 229.0,95.5 229.8,89.4 230.6,78.4 231.5,65.2 232.3,55.4 233.1,54.2 233.9,61.3 234.8,71.8 235.6,80.1 236.4,83.8 237.2,82.6 238.0,76.1 238.9,65.1 239.7,53.6 240.5,47.7 241.3,50.0 242.2,57.5 243.0,64.9 243.8,70.3 244.6,75.1 245.4,80.5 246.3,85.6 247.1,89.5 247.9,92.6 248.7,96.0 249.6,99.6 250.4,102.1 251.2,101.4 252.0,95.9 252.8,84.8 253.7,70.0 254.5,57.2 255.3,52.5 256.1,58.1 257.0,70.2 257.8,82.1 258.6,88.2 259.4,86.5 260.2,78.2 261.1,67.5 261.9,60.3 262.7,60.1 263.5,65.7 264.4,72.6 265.2,77.6 266.0,80.5 266.8,82.1 267.6,82.6 268.5,82.5 269.3,82.9 270.1,83.8 270.9,84.1 271.8,82.1 272.6,76.8 273.4,67.6 274.2,56.3 275.0,47.3 275.9,45.8 276.7,52.9 277.5,64.8 278.3,75.7 279.2,82.3 280.0,84.4 280.8,83.8 281.6,82.9 282.4,83.7 283.3,86.5 284.1,89.8 284.9,92.0 285.7,92.4 286.6,90.9 287.4,88.4 288.2,86.2 289.0,84.8 289.9,83.3 290.7,80.4 291.5,75.2 292.3,67.7 293.1,59.8 294.0,55.0 294.8,56.9 295.6,64.8 296.4,74.1 297.3,79.1 298.1,77.0 298.9,69.7 299.7,62.6 300.5,61.6 301.4,68.6 302.2,79.6 303.0,87.8 303.8,88.9 304.7,83.2 305.5,75.3 306.3,70.6 307.1,71.8 307.9,76.6 308.8,80.4 309.6,79.6 310.4,74.3 311.2,68.0 312.1,65.5 312.9,68.7 313.7,75.7 314.5,82.8 315.3,87.0 316.2,87.8 317.0,86.1 317.8,83.3 318.6,79.9 319.5,76.7 320.3,74.2 321.1,73.3 321.9,74.0 322.7,76.4 323.6,80.1 324.4,83.6 325.2,84.4 326.0,80.5 326.9,72.6 327.7,65.0 328.5,63.0 329.3,68.6 330.1,78.0 331.0,84.8 331.8,84.8 332.6,78.7 333.4,71.0 334.3,65.8 335.1,64.2 335.9,65.3 336.7,67.3 337.6,69.5 338.4,71.8 339.2,74.4 340.0,76.8 340.8,77.8 341.7,76.4 342.5,73.0 343.3,70.4 344.1,71.6 345.0,77.2 345.8,83.8 346.6,86.2 347.4,82.4 348.2,75.7 349.1,72.2 349.9,75.4 350.7,83.5 351.5,91.5 352.4,95.5 353.2,95.2 354.0,92.1 354.8,87.6 355.6,81.3 356.5,72.8 357.3,62.6 358.1,54.0 358.9,50.8 359.8,54.4 360.6,62.1 361.4,69.4 362.2,73.4 363.0,74.8 363.9,75.8 364.7,78.1 365.5,81.6 366.3,85.1 367.2,87.8 368.0,89.5 368.8,89.9 369.6,88.2 370.4,82.8 371.3,73.4 372.1,62.9 372.9,56.3 373.7,57.1 374.6,63.9 375.4,71.1 376.2,74.4 377.0,73.4 377.8,71.2 378.7,70.4 379.5,71.6 380.3,73.6 381.1,76.0 382.0,79.6 382.8,84.7 383.6,90.2 384.4,93.4 385.2,92.9 386.1,90.0 386.9,87.5 387.7,86.6 388.5,86.0 389.4,83.6 390.2,78.6 391.0,72.4 391.8,67.1 392.7,63.7 393.5,62.0 394.3,61.7 395.1,63.1 395.9,66.0 396.8,69.5 397.6,71.5 398.4,71.3 399.2,70.4 400.1,71.1 400.9,73.9 401.7,76.9 402.5,77.7 403.3,76.7 404.2,76.5 405.0,79.1 405.8,83.2 406.6,86.0 407.5,85.9 408.3,83.5 409.1,80.3 409.9,76.7 410.7,72.9 411.6,69.5 412.4,67.5 413.2,67.8 414.0,69.2 414.9,70.1 415.7,70.4 416.5,72.2 417.3,77.3 418.1,84.8 419.0,92.0 419.8,96.5 420.6,97.7 421.4,95.4 422.3,89.2 423.1,79.0 423.9,67.3 424.7,59.0 425.5,57.3 426.4,61.4 427.2,67.2 428.0,71.5 428.8,73.7 429.7,75.3 430.5,77.2 431.3,79.5 432.1,81.3 432.9,81.6 433.8,79.2 434.6,73.2 435.4,65.3 436.2,59.2 437.1,58.8 437.9,64.3 438.7,72.4 439.5,78.9 440.4,82.1 441.2,82.9 442.0,82.9 442.8,82.8 443.6,82.3 444.5,81.0 445.3,78.9 446.1,76.7 446.9,75.6 447.8,76.6 448.6,79.8 449.4,83.3 450.2,84.6" stroke="#d272d2" stroke-width="1.0" fill="none" stroke-dasharray="7 1"/><path d="M53.0,65.1 53.8,63.9 54.6,62.4 55.5,60.7 56.3,59.1 57.1,58.0 57.9,57.7 58.8,58.4 59.6,60.0 60.4,62.4 61.2,65.2 62.0,67.8 62.9,69.9 63.7,71.3 64.5,72.1 65.3,72.5 66.2,72.8 67.0,73.1 67.8,73.4 68.6,73.7 69.4,73.8 70.3,73.0 71.1,69.1 71.9,58.8 72.7,41.7 73.6,25.4 74.4,21.4 75.2,32.2 76.0,48.3 76.8,59.5 77.7,63.8 78.5,64.1 79.3,63.3 80.1,62.7 81.0,62.8 81.8,63.5 82.6,64.8 83.4,66.5 84.3,68.5 85.1,70.5 85.9,72.2 86.7,73.1 87.5,72.5 88.4,69.7 89.2,65.1 90.0,60.7 90.8,59.1 91.7,61.2 92.5,65.2 93.3,68.7 94.1,70.8 94.9,71.7 95.8,72.3 96.6,73.0 97.4,73.7 98.2,74.3 99.1,73.5 99.9,69.6 100.7,60.5 101.5,46.5 102.3,32.4 103.2,25.8 104.0,30.6 104.8,43.4 105.6,56.9 106.5,66.1 107.3,70.8 108.1,72.6 108.9,73.3 109.7,73.1 110.6,71.5 111.4,67.7 112.2,61.8 113.0,55.9 113.9,53.0 114.7,54.7 115.5,59.9 116.3,65.5 117.1,69.7 118.0,72.0 118.8,72.7 119.6,71.3 120.4,66.8 121.3,58.6 122.1,49.3 122.9,43.7 123.7,45.6 124.5,54.5 125.4,65.7 126.2,74.6 127.0,79.4 127.8,80.9 128.7,80.0 129.5,77.3 130.3,73.6 131.1,70.4 132.0,69.1 132.8,70.2 133.6,72.4 134.4,74.1 135.2,73.2 136.1,68.0 136.9,56.7 137.7,39.9 138.5,22.7 139.4,13.6 140.2,17.7 141.0,32.6 141.8,50.3 142.6,63.9 143.5,71.6 144.3,74.7 145.1,75.3 145.9,75.4 146.8,76.2 147.6,78.3 148.4,80.8 149.2,82.1 150.0,80.3 150.9,74.0 151.7,63.4 152.5,52.2 153.3,45.7 154.2,47.4 155.0,55.8 155.8,65.3 156.6,70.8 157.4,70.2 158.3,64.9 159.1,58.8 159.9,55.8 160.7,58.1 161.6,63.9 162.4,69.3 163.2,71.0 164.0,68.4 164.8,63.4 165.7,59.8 166.5,60.4 167.3,65.1 168.1,70.7 169.0,73.6 169.8,71.9 170.6,67.1 171.4,62.5 172.2,61.2 173.1,63.1 173.9,64.5 174.7,60.2 175.5,48.1 176.4,32.1 177.2,20.9 178.0,21.9 178.8,35.3 179.6,54.2 180.5,70.7 181.3,81.2 182.1,86.5 182.9,88.6 183.8,88.5 184.6,85.9 185.4,79.6 186.2,69.6 187.1,58.6 187.9,51.5 188.7,52.0 189.5,58.9 190.3,67.5 191.2,73.1 192.0,74.6 192.8,73.7 193.6,72.5 194.5,71.0 195.3,67.6 196.1,60.9 196.9,52.6 197.7,47.1 198.6,48.0 199.4,54.7 200.2,62.3 201.0,66.5 201.9,66.7 202.7,65.8 203.5,65.6 204.3,64.7 205.1,59.9 206.0,50.7 206.8,41.7 207.6,39.3 208.4,46.0 209.3,57.5 210.1,67.4 210.9,72.5 211.7,74.1 212.5,74.5 213.4,73.7 214.2,70.3 215.0,64.2 215.8,58.1 216.7,56.0 217.5,58.6 218.3,63.0 219.1,66.0 219.9,66.9 220.8,67.0 221.6,67.0 222.4,65.7 223.2,62.5 224.1,59.2 224.9,59.2 225.7,64.2 226.5,72.1 227.3,79.3 228.2,83.3 229.0,83.2 229.8,78.6 230.6,69.1 231.5,56.2 232.3,44.8 233.1,40.7 233.9,45.7 234.8,55.8 235.6,65.1 236.4,70.3 237.2,70.6 238.0,65.7 238.9,55.9 239.7,43.9 240.5,35.8 241.3,35.6 242.2,42.1 243.0,49.9 243.8,55.9 244.6,60.6 245.4,65.8 246.3,71.2 247.1,75.5 247.9,78.7 248.7,81.9 249.6,85.5 250.4,88.6 251.2,89.3 252.0,85.5 252.8,76.1 253.7,62.0 254.5,47.8 255.3,39.8 256.1,42.1 257.0,52.9 257.8,65.7 258.6,74.2 259.4,75.1 260.2,68.7 261.1,58.1 261.9,49.0 262.7,46.2 263.5,50.3 264.4,57.4 265.2,63.2 266.0,66.8 266.8,68.8 267.6,69.6 268.5,69.7 269.3,69.8 270.1,70.6 270.9,71.3 271.8,70.3 272.6,66.2 273.4,58.3 274.2,47.2 275.0,36.5 275.9,31.8 276.7,36.1 277.5,47.1 278.3,59.1 279.2,67.6 280.0,71.3 280.8,71.4 281.6,70.3 282.4,70.4 283.3,72.6 284.1,75.9 284.9,78.8 285.7,79.9 286.6,79.0 287.4,76.8 288.2,74.3 289.0,72.5 289.9,71.2 290.7,69.0 291.5,64.6 292.3,57.8 293.1,49.5 294.0,42.8 294.8,41.8 295.6,47.9 296.4,57.6 297.3,65.1 298.1,65.8 298.9,59.9 299.7,51.7 300.5,47.6 301.4,51.7 302.2,62.2 303.0,72.6 303.8,77.0 304.7,73.5 305.5,65.5 306.3,58.8 307.1,57.6 307.9,61.5 308.8,66.5 309.6,67.8 310.4,64.0 311.2,57.3 312.1,52.6 312.9,53.4 313.7,59.5 314.5,67.3 315.3,73.1 316.2,75.4 317.0,74.6 317.8,72.0 318.6,68.6 319.5,65.2 320.3,62.2 321.1,60.4 321.9,60.4 322.7,62.2 323.6,65.5 324.4,69.6 325.2,72.0 326.0,70.2 326.9,63.4 327.7,54.7 328.5,49.4 329.3,51.9 330.1,60.8 331.0,69.9 331.8,73.3 332.6,69.3 333.4,61.4 334.3,54.4 335.1,51.0 335.9,51.1 336.7,52.9 337.6,55.2 338.4,57.6 339.2,60.2 340.0,62.9 340.8,64.8 341.7,64.5 342.5,61.7 343.3,58.1 344.1,57.2 345.0,61.2 345.8,68.3 346.6,73.5 347.4,72.4 348.2,66.0 349.1,60.0 349.9,59.9 350.7,66.6 351.5,75.8 352.4,82.3 353.2,84.1 354.0,82.0 354.8,77.8 355.6,72.2 356.5,64.4 357.3,54.2 358.1,43.7 358.9,37.1 359.8,37.5 360.6,44.1 361.4,52.7 362.2,58.8 363.0,61.3 363.9,62.2 364.7,63.9 365.5,67.1 366.3,71.0 367.2,74.4 368.0,76.7 368.8,77.9 369.6,77.4 370.4,73.8 371.3,65.8 372.1,54.6 372.9,44.7 373.7,41.4 374.6,46.0 375.4,54.3 376.2,60.3 377.0,61.3 377.8,59.1 378.7,57.3 379.5,57.5 380.3,59.3 381.1,61.7 382.0,64.7 382.8,69.4 383.6,75.4 384.4,80.4 385.2,82.0 386.1,80.0 386.9,76.7 387.7,74.8 388.5,74.3 389.4,73.0 390.2,69.1 391.0,62.8 391.8,56.4 392.7,51.6 393.5,48.8 394.3,47.6 395.1,48.1 395.9,50.4 396.8,54.1 397.6,57.4 398.4,58.4 399.2,57.5 400.1,57.0 400.9,59.0 401.7,62.5 402.5,64.9 403.3,64.6 404.2,63.5 405.0,64.5 405.8,68.4 406.6,72.6 407.5,74.4 408.3,73.0 409.1,69.8 409.9,66.1 410.7,62.1 411.6,58.0 412.4,54.8 413.2,53.8 414.0,54.8 414.9,56.3 415.7,56.8 416.5,57.5 417.3,60.9 418.1,67.8 419.0,76.3 419.8,83.2 420.6,86.6 421.4,86.3 422.3,82.1 423.1,73.3 423.9,60.9 424.7,49.0 425.5,42.7 426.4,43.9 427.2,49.7 428.0,55.7 428.8,59.4 429.7,61.4 430.5,63.2 431.3,65.5 432.1,67.9 432.9,69.4 433.8,68.7 434.6,64.4 435.4,56.6 436.2,48.1 437.1,43.5 437.9,45.8 438.7,53.7 439.5,62.4 440.4,68.2 441.2,70.4 442.0,70.8 442.8,70.7 443.6,70.5 444.5,69.7 445.3,67.9 446.1,65.4 446.9,63.2 447.8,62.7 448.6,64.9 449.4,68.9 450.2,72.2" stroke="#b0b068" stroke-width="1.0" fill="none" stroke-dasharray="7 1"/></g>
<!-- panel a frame -->
<g stroke="#909090" stroke-width="1.7" fill="none">
<path d="M53.3,9.2 H496 M53.3,8.4 V164.7 M52.5,163.9 H496"/>
<path d="M50.5,42.6 H53 M50.5,144.2 H53 M137.3,164.5 V166.8 M239.8,164.5 V166.8 M342.3,164.5 V166.8 M444.9,164.5 V166.8" stroke="#5a5a5a" stroke-width="1.2"/>
</g>
<path d="M499,9 V165" stroke="#e6e6e6" stroke-width="1.5"/>
<g class="tl" text-anchor="middle">
<text x="137.3" y="182">10</text><text x="239.6" y="182">20</text><text x="342.1" y="182">30</text><text x="444.7" y="182">40</text>
</g>
<text x="268" y="193.3" style="font-size:16px" fill="#111">r/Å</text>
<text transform="translate(38.2,84.6) rotate(-90)" text-anchor="middle" style="font-size:16px" fill="#111">G(r)/a.u.</text>
<text x="476.8" y="34.6" class="pl">a</text>
<g class="la">
<text x="465.1" y="69.05" fill="#80803a" stroke="#80803a" textLength="28.9" lengthAdjust="spacingAndGlyphs">800 °C</text>
<text x="465.1" y="81.75" fill="#cc44cc" stroke="#cc44cc" textLength="28.9" lengthAdjust="spacingAndGlyphs">700 °C</text>
<text x="465.1" y="94.75" fill="#3a3a9a" stroke="#3a3a9a" textLength="28.9" lengthAdjust="spacingAndGlyphs">600 °C</text>
<text x="465.1" y="107.45" fill="#a0a0a0" stroke="#a0a0a0" textLength="28.9" lengthAdjust="spacingAndGlyphs">500 °C</text>
<text x="465.1" y="120.55" fill="#3aaa3a" stroke="#3aaa3a" textLength="28.9" lengthAdjust="spacingAndGlyphs">400 °C</text>
<text x="465.1" y="134.95" fill="#c04040" stroke="#c04040" textLength="28.9" lengthAdjust="spacingAndGlyphs">300 °C</text>
<text x="465.1" y="149.85" fill="#2a2a2a" stroke="#2a2a2a" textLength="28.9" lengthAdjust="spacingAndGlyphs">200 °C</text>
</g>
<!-- panel frames -->
<g stroke="#3a3a3a" stroke-width="1.4" fill="none">
<rect x="74" y="209.5" width="199.3" height="132.3"/>
<rect x="279.1" y="209.6" width="199.3" height="132.6"/>
<rect x="73.8" y="346" width="199.1" height="132.4"/>
<rect x="279.2" y="347.1" width="199" height="133"/>
</g>
<g stroke="#3a3a3a" stroke-width="1.2" fill="none"><path d="M71,231.1 H74 M71,268.2 H74 M71,305 H74 M70.8,360.9 H73.8 M70.8,390 H73.8 M70.8,419.9 H73.8 M70.8,449 H73.8 M70.8,478.2 H73.8 M478.4,221.8 H481.4 M478.4,245.6 H481.4 M478.4,269.9 H481.4 M478.4,294.5 H481.4 M478.4,318.8 H481.4 M478.2,371.3 H481.2 M478.2,399.1 H481.2 M478.2,426.6 H481.2 M478.2,452.8 H481.2 M478.2,480.3 H481.2 M88.3,341.8 V344.8 M87.8,478.4 V481.4 M293.4,342.2 V345.2 M293.3,480.2 V483.2 M116.8,341.8 V344.8 M116.3,478.4 V481.4 M321.8,342.2 V345.2 M321.8,480.2 V483.2 M145.4,341.8 V344.8 M144.8,478.4 V481.4 M350.3,342.2 V345.2 M350.3,480.2 V483.2 M173.9,341.8 V344.8 M173.3,478.4 V481.4 M378.8,342.2 V345.2 M378.8,480.2 V483.2 M202.5,341.8 V344.8 M201.8,478.4 V481.4 M407.2,342.2 V345.2 M407.3,480.2 V483.2 M231.1,341.8 V344.8 M230.3,478.4 V481.4 M435.6,342.2 V345.2 M435.8,480.2 V483.2 M259.6,341.8 V344.8 M258.8,478.4 V481.4 M464.1,342.2 V345.2 M464.3,480.2 V483.2 "/></g>
<circle cx="90.9" cy="329.1" r="2.85" fill="#00ee00"/><circle cx="95.5" cy="328.5" r="2.85" fill="#00ee00"/><circle cx="100.9" cy="327.8" r="2.85" fill="#00ee00"/><circle cx="106.9" cy="327.1" r="2.85" fill="#00ee00"/><circle cx="112.7" cy="326" r="2.85" fill="#00ee00"/><circle cx="118.2" cy="325.1" r="2.85" fill="#00ee00"/><circle cx="124.2" cy="322" r="2.85" fill="#00ee00"/><circle cx="130" cy="322.4" r="2.85" fill="#00ee00"/><circle cx="136" cy="320.7" r="2.85" fill="#00ee00"/><circle cx="142.2" cy="319.3" r="2.85" fill="#00ee00"/><circle cx="146" cy="317.6" r="2.85" fill="#00ee00"/><circle cx="151.8" cy="316.4" r="2.85" fill="#00ee00"/><circle cx="157.8" cy="315.1" r="2.85" fill="#00ee00"/><circle cx="163.6" cy="313.5" r="2.85" fill="#00ee00"/><circle cx="169.5" cy="311.8" r="2.85" fill="#00ee00"/><circle cx="175.5" cy="309.6" r="2.85" fill="#00ee00"/><circle cx="187.4" cy="304.1" r="2.85" fill="#00ee00"/><circle cx="199.1" cy="297.6" r="2.85" fill="#00ee00"/><circle cx="216.8" cy="281.2" r="2.85" fill="#00ee00"/><circle cx="228.4" cy="269.7" r="2.85" fill="#00ee00"/><circle cx="257.8" cy="220.3" r="2.85" fill="#00ee00"/>
<circle cx="295.7" cy="332.2" r="2.85" fill="#000"/><circle cx="300.4" cy="330.4" r="2.85" fill="#000"/><circle cx="305.9" cy="327.1" r="2.85" fill="#000"/><circle cx="311.7" cy="323.9" r="2.85" fill="#000"/><circle cx="317.5" cy="319.8" r="2.85" fill="#000"/><circle cx="323.4" cy="316.2" r="2.85" fill="#000"/><circle cx="329.5" cy="308.1" r="2.85" fill="#000"/><circle cx="335.2" cy="308.1" r="2.85" fill="#000"/><circle cx="341.1" cy="304.2" r="2.85" fill="#000"/><circle cx="347.2" cy="298.8" r="2.85" fill="#000"/><circle cx="362.6" cy="290.4" r="2.85" fill="#000"/><circle cx="380.4" cy="279" r="2.85" fill="#000"/><circle cx="392.4" cy="271.6" r="2.85" fill="#000"/><circle cx="404" cy="265.4" r="2.85" fill="#000"/><circle cx="421.6" cy="253.4" r="2.85" fill="#000"/><circle cx="433.4" cy="251" r="2.85" fill="#000"/><circle cx="445" cy="243" r="2.85" fill="#000"/><circle cx="462.6" cy="233.4" r="2.85" fill="#000"/>
<circle cx="295.7" cy="317.3" r="2.85" fill="#ee0000"/><circle cx="300.4" cy="316.2" r="2.85" fill="#ee0000"/><circle cx="305.9" cy="313" r="2.85" fill="#ee0000"/><circle cx="311.7" cy="310.1" r="2.85" fill="#ee0000"/><circle cx="317.5" cy="306.7" r="2.85" fill="#ee0000"/><circle cx="323.5" cy="303.7" r="2.85" fill="#ee0000"/><circle cx="329.5" cy="296.9" r="2.85" fill="#ee0000"/><circle cx="335.3" cy="296.9" r="2.85" fill="#ee0000"/><circle cx="341.1" cy="293.7" r="2.85" fill="#ee0000"/><circle cx="347.2" cy="288.9" r="2.85" fill="#ee0000"/><circle cx="362.6" cy="281.6" r="2.85" fill="#ee0000"/><circle cx="380.4" cy="270.6" r="2.85" fill="#ee0000"/><circle cx="404" cy="258" r="2.85" fill="#ee0000"/><circle cx="421.6" cy="248" r="2.85" fill="#ee0000"/><circle cx="445" cy="236" r="2.85" fill="#ee0000"/><circle cx="462.6" cy="226.6" r="2.85" fill="#ee0000"/>
<circle cx="295.7" cy="311.1" r="2.85" fill="#0000ee"/><circle cx="300.4" cy="309.6" r="2.85" fill="#0000ee"/><circle cx="305.9" cy="307.2" r="2.85" fill="#0000ee"/><circle cx="311.7" cy="304.1" r="2.85" fill="#0000ee"/><circle cx="317.5" cy="300.9" r="2.85" fill="#0000ee"/><circle cx="323.5" cy="298.4" r="2.85" fill="#0000ee"/><circle cx="329.5" cy="292.1" r="2.85" fill="#0000ee"/><circle cx="335.3" cy="292.1" r="2.85" fill="#0000ee"/><circle cx="341.1" cy="289.2" r="2.85" fill="#0000ee"/><circle cx="347.2" cy="284.5" r="2.85" fill="#0000ee"/><circle cx="362.6" cy="277.6" r="2.85" fill="#0000ee"/><circle cx="380.4" cy="267.4" r="2.85" fill="#0000ee"/><circle cx="404" cy="255" r="2.85" fill="#0000ee"/><circle cx="421.6" cy="245.4" r="2.85" fill="#0000ee"/><circle cx="445" cy="234" r="2.85" fill="#0000ee"/><circle cx="462.6" cy="224.6" r="2.85" fill="#0000ee"/>
<circle cx="90.5" cy="445.6" r="2.85" fill="#000"/><circle cx="94.5" cy="442.3" r="2.85" fill="#000"/><circle cx="100.7" cy="440.8" r="2.85" fill="#000"/><circle cx="106.5" cy="439.4" r="2.85" fill="#000"/><circle cx="112.3" cy="439.4" r="2.85" fill="#000"/><circle cx="118.1" cy="440.4" r="2.85" fill="#000"/><circle cx="123.9" cy="442.3" r="2.85" fill="#000"/><circle cx="129.9" cy="442.3" r="2.85" fill="#000"/><circle cx="135.7" cy="444.5" r="2.85" fill="#000"/><circle cx="141.8" cy="445.2" r="2.85" fill="#000"/><circle cx="157.4" cy="445.6" r="2.85" fill="#000"/><circle cx="175.1" cy="444.7" r="2.85" fill="#000"/><circle cx="186.9" cy="444.2" r="2.85" fill="#000"/><circle cx="198.7" cy="442" r="2.85" fill="#000"/><circle cx="216.2" cy="437.8" r="2.85" fill="#000"/><circle cx="227.9" cy="432.1" r="2.85" fill="#000"/><circle cx="239.6" cy="429" r="2.85" fill="#000"/><circle cx="257.4" cy="422.2" r="2.85" fill="#000"/>
<circle cx="90.5" cy="429.9" r="2.85" fill="#ee0000"/><circle cx="94.5" cy="427.3" r="2.85" fill="#ee0000"/><circle cx="100.7" cy="425.5" r="2.85" fill="#ee0000"/><circle cx="106.5" cy="425.3" r="2.85" fill="#ee0000"/><circle cx="112.3" cy="425.5" r="2.85" fill="#ee0000"/><circle cx="118.1" cy="427.3" r="2.85" fill="#ee0000"/><circle cx="123.9" cy="431.1" r="2.85" fill="#ee0000"/><circle cx="129.9" cy="431.1" r="2.85" fill="#ee0000"/><circle cx="135.7" cy="433.1" r="2.85" fill="#ee0000"/><circle cx="141.8" cy="436.5" r="2.85" fill="#ee0000"/><circle cx="157.4" cy="437.1" r="2.85" fill="#ee0000"/><circle cx="175.1" cy="436.7" r="2.85" fill="#ee0000"/><circle cx="198.7" cy="434.3" r="2.85" fill="#ee0000"/><circle cx="216.2" cy="430" r="2.85" fill="#ee0000"/><circle cx="239.6" cy="420.7" r="2.85" fill="#ee0000"/><circle cx="257.4" cy="413" r="2.85" fill="#ee0000"/>
<circle cx="90.5" cy="410.7" r="2.85" fill="#0000ee"/><circle cx="94.5" cy="408.1" r="2.85" fill="#0000ee"/><circle cx="100.7" cy="406.6" r="2.85" fill="#0000ee"/><circle cx="106.5" cy="406.6" r="2.85" fill="#0000ee"/><circle cx="112.3" cy="408.1" r="2.85" fill="#0000ee"/><circle cx="118.1" cy="410.7" r="2.85" fill="#0000ee"/><circle cx="123.9" cy="417.3" r="2.85" fill="#0000ee"/><circle cx="129.9" cy="417.3" r="2.85" fill="#0000ee"/><circle cx="135.7" cy="420.7" r="2.85" fill="#0000ee"/><circle cx="141.8" cy="424.4" r="2.85" fill="#0000ee"/><circle cx="157.4" cy="427.8" r="2.85" fill="#0000ee"/><circle cx="175.1" cy="429" r="2.85" fill="#0000ee"/><circle cx="198.7" cy="428.4" r="2.85" fill="#0000ee"/><circle cx="216.2" cy="425.1" r="2.85" fill="#0000ee"/><circle cx="239.6" cy="415.8" r="2.85" fill="#0000ee"/><circle cx="257.4" cy="409.2" r="2.85" fill="#0000ee"/>
<circle cx="295.9" cy="417.5" r="2.85" fill="#000"/><circle cx="299.8" cy="417.7" r="2.85" fill="#000"/><circle cx="306.1" cy="417.9" r="2.85" fill="#000"/><circle cx="311.9" cy="418.2" r="2.85" fill="#000"/><circle cx="317.7" cy="418.6" r="2.85" fill="#000"/><circle cx="323.5" cy="418.9" r="2.85" fill="#000"/><circle cx="329.4" cy="420.4" r="2.85" fill="#000"/><circle cx="335.2" cy="420.4" r="2.85" fill="#000"/><circle cx="341" cy="421.1" r="2.85" fill="#000"/><circle cx="347.3" cy="419.2" r="2.85" fill="#000"/><circle cx="362.7" cy="419" r="2.85" fill="#000"/><circle cx="380.5" cy="417.9" r="2.85" fill="#000"/><circle cx="392.1" cy="416.6" r="2.85" fill="#000"/><circle cx="404.1" cy="415.7" r="2.85" fill="#000"/><circle cx="421.5" cy="411.8" r="2.85" fill="#000"/><circle cx="433.1" cy="408.5" r="2.85" fill="#000"/><circle cx="444.9" cy="406.4" r="2.85" fill="#000"/><circle cx="462.6" cy="401.6" r="2.85" fill="#000"/>
<circle cx="295.9" cy="426.6" r="2.85" fill="#ee0000"/><circle cx="299.8" cy="426.6" r="2.85" fill="#ee0000"/><circle cx="306.1" cy="426.6" r="2.85" fill="#ee0000"/><circle cx="311.9" cy="426.9" r="2.85" fill="#ee0000"/><circle cx="317.7" cy="427.3" r="2.85" fill="#ee0000"/><circle cx="323.5" cy="428.4" r="2.85" fill="#ee0000"/><circle cx="329.4" cy="430.5" r="2.85" fill="#ee0000"/><circle cx="335.2" cy="430.5" r="2.85" fill="#ee0000"/><circle cx="341" cy="431.3" r="2.85" fill="#ee0000"/><circle cx="347.3" cy="429.5" r="2.85" fill="#ee0000"/><circle cx="362.7" cy="430.1" r="2.85" fill="#ee0000"/><circle cx="380.5" cy="428.2" r="2.85" fill="#ee0000"/><circle cx="404.1" cy="426" r="2.85" fill="#ee0000"/><circle cx="421.5" cy="421.2" r="2.85" fill="#ee0000"/><circle cx="444.9" cy="415.5" r="2.85" fill="#ee0000"/><circle cx="462.6" cy="411.2" r="2.85" fill="#ee0000"/>
<circle cx="295.9" cy="441" r="2.85" fill="#0000ee"/><circle cx="299.8" cy="441.5" r="2.85" fill="#0000ee"/><circle cx="306.1" cy="440.4" r="2.85" fill="#0000ee"/><circle cx="311.9" cy="441" r="2.85" fill="#0000ee"/><circle cx="317.7" cy="441" r="2.85" fill="#0000ee"/><circle cx="323.5" cy="443.2" r="2.85" fill="#0000ee"/><circle cx="329.4" cy="446.8" r="2.85" fill="#0000ee"/><circle cx="335.2" cy="446.8" r="2.85" fill="#0000ee"/><circle cx="341" cy="449" r="2.85" fill="#0000ee"/><circle cx="347.3" cy="445.8" r="2.85" fill="#0000ee"/><circle cx="362.7" cy="448.6" r="2.85" fill="#0000ee"/><circle cx="380.5" cy="447.8" r="2.85" fill="#0000ee"/><circle cx="404.1" cy="444.1" r="2.85" fill="#0000ee"/><circle cx="421.5" cy="440.2" r="2.85" fill="#0000ee"/><circle cx="444.9" cy="434.7" r="2.85" fill="#0000ee"/><circle cx="462.6" cy="429.7" r="2.85" fill="#0000ee"/>
<g class="tl" text-anchor="end">
<text x="66" y="234.9">300</text>
<text x="66" y="272.0">200</text>
<text x="66" y="308.8">100</text>
<text x="65.9" y="364.7">0.018</text>
<text x="65.9" y="393.8">0.016</text>
<text x="65.9" y="423.7">0.014</text>
<text x="65.9" y="452.8">0.012</text>
<text x="65.9" y="481.8">0.010</text>
</g><g class="tl">
<text x="485.7" y="225.6">5.46</text>
<text x="485.7" y="249.4">5.45</text>
<text x="485.7" y="273.7">5.44</text>
<text x="485.7" y="298.3">5.43</text>
<text x="485.7" y="322.6">5.42</text>
<text x="486.3" y="375.1">0.08</text>
<text x="486.3" y="402.9">0.07</text>
<text x="486.3" y="430.4">0.06</text>
<text x="486.3" y="456.6">0.05</text>
<text x="486.3" y="484.1">0.04</text>
</g><g class="tl" text-anchor="middle">
<text x="87.6" y="496.3">200</text>
<text x="293.3" y="497.6">200</text>
<text x="116.1" y="496.3">300</text>
<text x="321.8" y="497.6">300</text>
<text x="144.6" y="496.3">400</text>
<text x="350.3" y="497.6">400</text>
<text x="173.1" y="496.3">500</text>
<text x="378.8" y="497.6">500</text>
<text x="201.6" y="496.3">600</text>
<text x="407.3" y="497.6">600</text>
<text x="230.1" y="496.3">700</text>
<text x="435.8" y="497.6">700</text>
<text x="258.6" y="496.3">800</text>
<text x="464.3" y="497.6">800</text>
</g>
<text x="155.3" y="529.1" class="ti">T/°C</text>
<text x="360.4" y="531" class="ti">T/°C</text>
<text transform="translate(24.3,411.6) rotate(-90)" text-anchor="middle" class="ti">U(Ce)/Å<tspan dy="-6.5" style="font-size:13px">2</tspan></text>
<text transform="translate(538.5,414) rotate(-90)" text-anchor="middle" class="ti">U(O)/Å<tspan dy="-6.5" style="font-size:13px">2</tspan></text>
<text transform="translate(538.9,274.5) rotate(-90)" text-anchor="middle" class="ti">a/Å</text>
<text transform="translate(27.6,272) rotate(-90)" text-anchor="middle" class="ti">D<tspan dy="5" style="font-size:11.5px">V</tspan><tspan dy="-5">/Å</tspan></text>
<text x="85.9" y="231.5" class="pl">b</text>
<text x="288" y="232.7" class="pl">c</text>
<text x="81.3" y="367.3" class="pl">d</text>
<text x="288.4" y="366.1" class="pl">e</text>
<g class="lg" text-anchor="end"><text x="468.2" y="296.4" fill="#000">2-8 Å</text><text x="468.8" y="313.3" fill="#e01818">5-11 Å</text><text x="468.8" y="331.9" fill="#1f5fbf">8-14 Å</text></g>
<text x="221.7" y="299.2" class="lg" fill="#1ea01e">2-200 Å</text>
</svg>
</body></html>
